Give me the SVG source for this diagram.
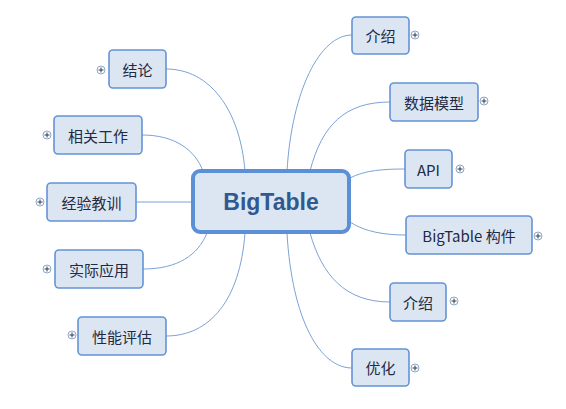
<svg xmlns="http://www.w3.org/2000/svg" width="566" height="409" viewBox="0 0 566 409">
<style>
.n rect{fill:#dce6f3;stroke:#6493d6;stroke-width:1.6}
.c rect{fill:#dce6f3;stroke:#5b8fd6;stroke-width:4}
.t{font-family:"Noto Sans CJK SC","Microsoft YaHei",sans-serif;font-size:15px;fill:#1f2a44;text-anchor:middle;dominant-baseline:central}
.ct{font-family:"Liberation Sans","Noto Sans",sans-serif;font-size:23px;font-weight:bold;fill:#30598f;text-anchor:middle;dominant-baseline:central}
.e path{fill:none;stroke:#7ca2d8;stroke-width:1}
.p circle{fill:#fff;stroke:#7f9cc4;stroke-width:0.9}
.p path{stroke:#2f3a4c;stroke-width:1;fill:none}
</style>
<defs>
<g id="plus" class="p"><circle r="4"/><path d="M-2.5,0H2.5M0,-2.5V2.5"/></g>
</defs>
<g id="edges" class="e">
<path d="M287,171 C292,90 320,35 352,35"/>
<path d="M310,171 C322,125 345,102 390,102"/>
<path d="M350,178 C365,170 385,169 405,169"/>
<path d="M350,222 C365,232 385,235 406,235"/>
<path d="M310,233 C322,275 345,302 390,302"/>
<path d="M287,233 C292,320 320,368 352,368"/>
<path d="M245,171 C240,110 210,69 166,69"/>
<path d="M203,171 C195,150 175,135 142,135"/>
<path d="M136,202 L191,202"/>
<path d="M207,233 C198,255 178,269 143,269"/>
<path d="M245,233 C240,300 210,336 166,336"/>
</g>
<g id="center" class="c"><rect x="193" y="171" width="156" height="61" rx="7"/><text class="ct" x="271" y="202">BigTable</text></g>
<g id="r1" class="n"><rect x="352" y="17" width="57" height="37" rx="4"/><text class="t" x="380.5" y="35.5">介绍</text><use href="#plus" x="415" y="35"/></g>
<g id="r2" class="n"><rect x="390" y="83" width="88" height="38" rx="4"/><text class="t" x="434" y="102">数据模型</text><use href="#plus" x="484" y="101"/></g>
<g id="r3" class="n"><rect x="405" y="150" width="47" height="38" rx="4"/><text class="t" x="428.5" y="169">API</text><use href="#plus" x="460" y="169"/></g>
<g id="r4" class="n"><rect x="406" y="216" width="126" height="38" rx="4"/><text class="t" x="469" y="235">BigTable 构件</text><use href="#plus" x="538" y="236"/></g>
<g id="r5" class="n"><rect x="390" y="283" width="56" height="38" rx="4"/><text class="t" x="418" y="302">介绍</text><use href="#plus" x="454" y="301"/></g>
<g id="r6" class="n"><rect x="352" y="349" width="57" height="37" rx="4"/><text class="t" x="380.5" y="367.5">优化</text><use href="#plus" x="415" y="368"/></g>
<g id="l1" class="n"><rect x="109" y="50" width="57" height="38" rx="4"/><text class="t" x="137.5" y="69">结论</text><use href="#plus" x="101" y="70"/></g>
<g id="l2" class="n"><rect x="54" y="116" width="88" height="38" rx="4"/><text class="t" x="98" y="135">相关工作</text><use href="#plus" x="47" y="135"/></g>
<g id="l3" class="n"><rect x="47" y="183" width="89" height="38" rx="4"/><text class="t" x="91.5" y="202">经验教训</text><use href="#plus" x="40" y="202"/></g>
<g id="l4" class="n"><rect x="55" y="250" width="88" height="38" rx="4"/><text class="t" x="99" y="269">实际应用</text><use href="#plus" x="47" y="269"/></g>
<g id="l5" class="n"><rect x="78" y="317" width="88" height="38" rx="4"/><text class="t" x="122" y="336">性能评估</text><use href="#plus" x="72" y="335"/></g>
</svg>
